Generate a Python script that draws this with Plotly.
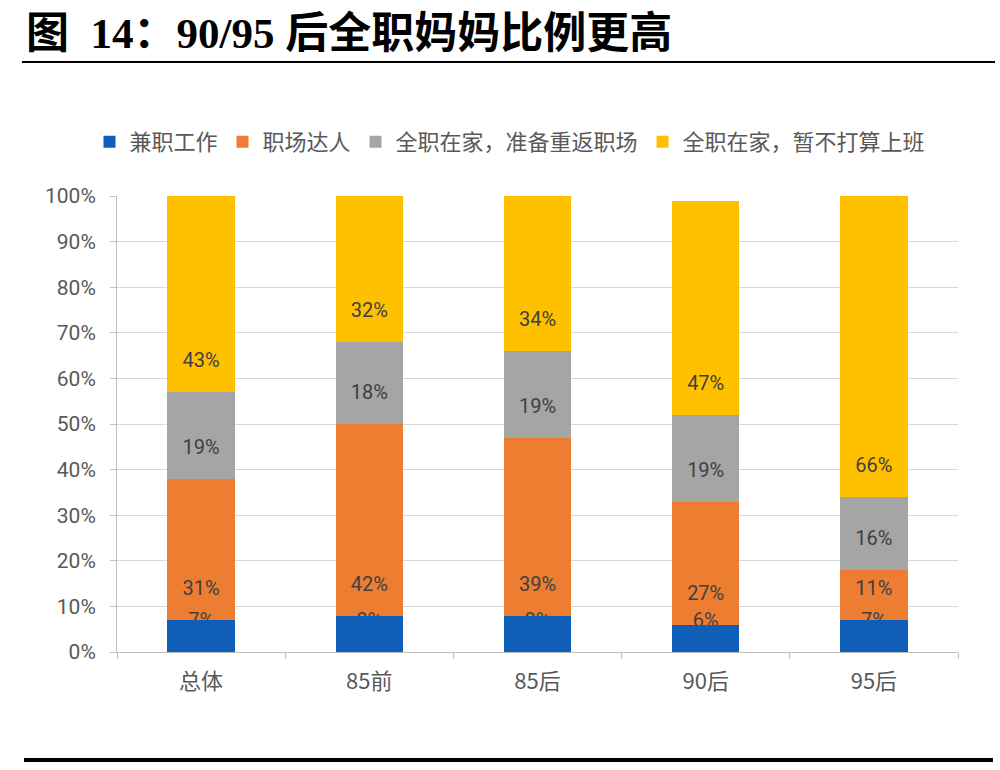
import plotly.graph_objects as go

categories = ["总体", "85前", "85后", "90后", "95后"]
series_names = ["兼职工作", "职场达人", "全职在家，准备重返职场", "全职在家，暂不打算上班"]
part_time = [7, 8, 8, 6, 7]
career = [31, 42, 39, 27, 11]
home_return = [19, 18, 19, 19, 16]
home_stay = [43, 32, 34, 47, 66]
colors = ["#0F5FB8", "#ED7D31", "#A5A5A5", "#FFC000"]
y_ticks = [0, 10, 20, 30, 40, 50, 60, 70, 80, 90, 100]

L, R, T, B = 117, 42, 196, 118
W, H = 1000, 770
pw, ph = W - L - R, H - T - B
label_offset = 30 / ph * 100  # labels sit ~30px above each segment's base

def px_x(x):
    return (x - L) / pw

def px_y(y):
    return (H - B - y) / ph

fig = go.Figure()
all_series = [part_time, career, home_return, home_stay]

# layer 1: stacked bars
for name, vals, col in zip(series_names, all_series, colors):
    fig.add_trace(go.Bar(
        x=categories, y=vals, name=name,
        marker=dict(color=col, line=dict(width=0)),
        hoverinfo="skip",
    ))

# layer 2: data labels (near the base of each segment)
lab_x, lab_y, lab_t = [], [], []
base = [0] * len(categories)
for vals in all_series:
    for j, v in enumerate(vals):
        lab_x.append(categories[j])
        lab_y.append(base[j] + label_offset)
        lab_t.append(f"{v}%")
        base[j] += v
fig.add_trace(go.Scatter(
    x=lab_x, y=lab_y, text=lab_t, mode="text",
    textfont=dict(size=20, color="#404040", family="Roboto"),
    showlegend=False, hoverinfo="skip",
    xaxis="x2", yaxis="y2",
))

# layer 3: bottom series redrawn on top (covers lower half of its labels)
fig.add_trace(go.Bar(
    x=categories, y=part_time, name=series_names[0],
    marker=dict(color=colors[0], line=dict(width=0)),
    showlegend=False, hoverinfo="skip",
    xaxis="x3", yaxis="y3",
))

hidden_x = dict(type="category", categoryorder="array", categoryarray=categories,
                range=[-0.5, len(categories) - 0.5], visible=False, overlaying="x")
hidden_y = dict(range=[0, 100], visible=False, overlaying="y")

fig.update_layout(
    barmode="stack",
    bargap=0.6,
    width=W, height=H,
    margin=dict(l=L, r=R, t=T, b=B, autoexpand=False),
    paper_bgcolor="#FFFFFF",
    plot_bgcolor="#FFFFFF",
    font=dict(family="Noto Sans CJK SC", color="#595959"),
    legend=dict(
        orientation="h",
        x=0.51, xref="container", xanchor="center",
        y=(H - 142) / H, yref="container", yanchor="middle",
        font=dict(size=22, color="#595959", family="Noto Sans CJK SC"),
        itemwidth=30,
        traceorder="normal",
        bgcolor="rgba(0,0,0,0)",
    ),
    xaxis=dict(
        type="category", categoryorder="array", categoryarray=categories,
        range=[-0.5, len(categories) - 0.5],
        showgrid=False,
        showline=True, linecolor="#BFBFBF", linewidth=1,
        ticks="outside", tickson="boundaries", ticklen=6, tickcolor="#BFBFBF",
        tickfont=dict(size=22, color="#595959", family="Noto Sans CJK SC"),
        ticklabelstandoff=10,
    ),
    yaxis=dict(
        range=[0, 100],
        tickvals=y_ticks,
        ticktext=[f"{v}%" for v in y_ticks],
        showgrid=True, gridcolor="#D9D9D9", gridwidth=1,
        showline=True, linecolor="#BFBFBF", linewidth=1,
        ticks="outside", ticklen=6, tickcolor="#BFBFBF",
        tickfont=dict(size=21, color="#595959", family="Roboto"),
        ticklabelstandoff=10,
        zeroline=False,
    ),
    xaxis2=hidden_x, yaxis2=hidden_y,
    xaxis3=hidden_x, yaxis3=hidden_y,
    annotations=[dict(
        text="<b>图&nbsp;&nbsp;14：90/95 后全职妈妈比例更高</b>",
        xref="paper", yref="paper",
        x=px_x(24), y=px_y(33),
        xanchor="left", yanchor="middle",
        showarrow=False,
        font=dict(size=43, color="#000000", family="Liberation Serif, Noto Sans CJK SC"),
    )],
    shapes=[
        dict(type="line", xref="paper", yref="paper",
             x0=px_x(22), x1=px_x(995), y0=px_y(62), y1=px_y(62),
             line=dict(color="#000000", width=2)),
        dict(type="line", xref="paper", yref="paper",
             x0=px_x(24), x1=px_x(993), y0=px_y(760), y1=px_y(760),
             line=dict(color="#000000", width=4)),
    ],
)

fig.write_html("out.html")
